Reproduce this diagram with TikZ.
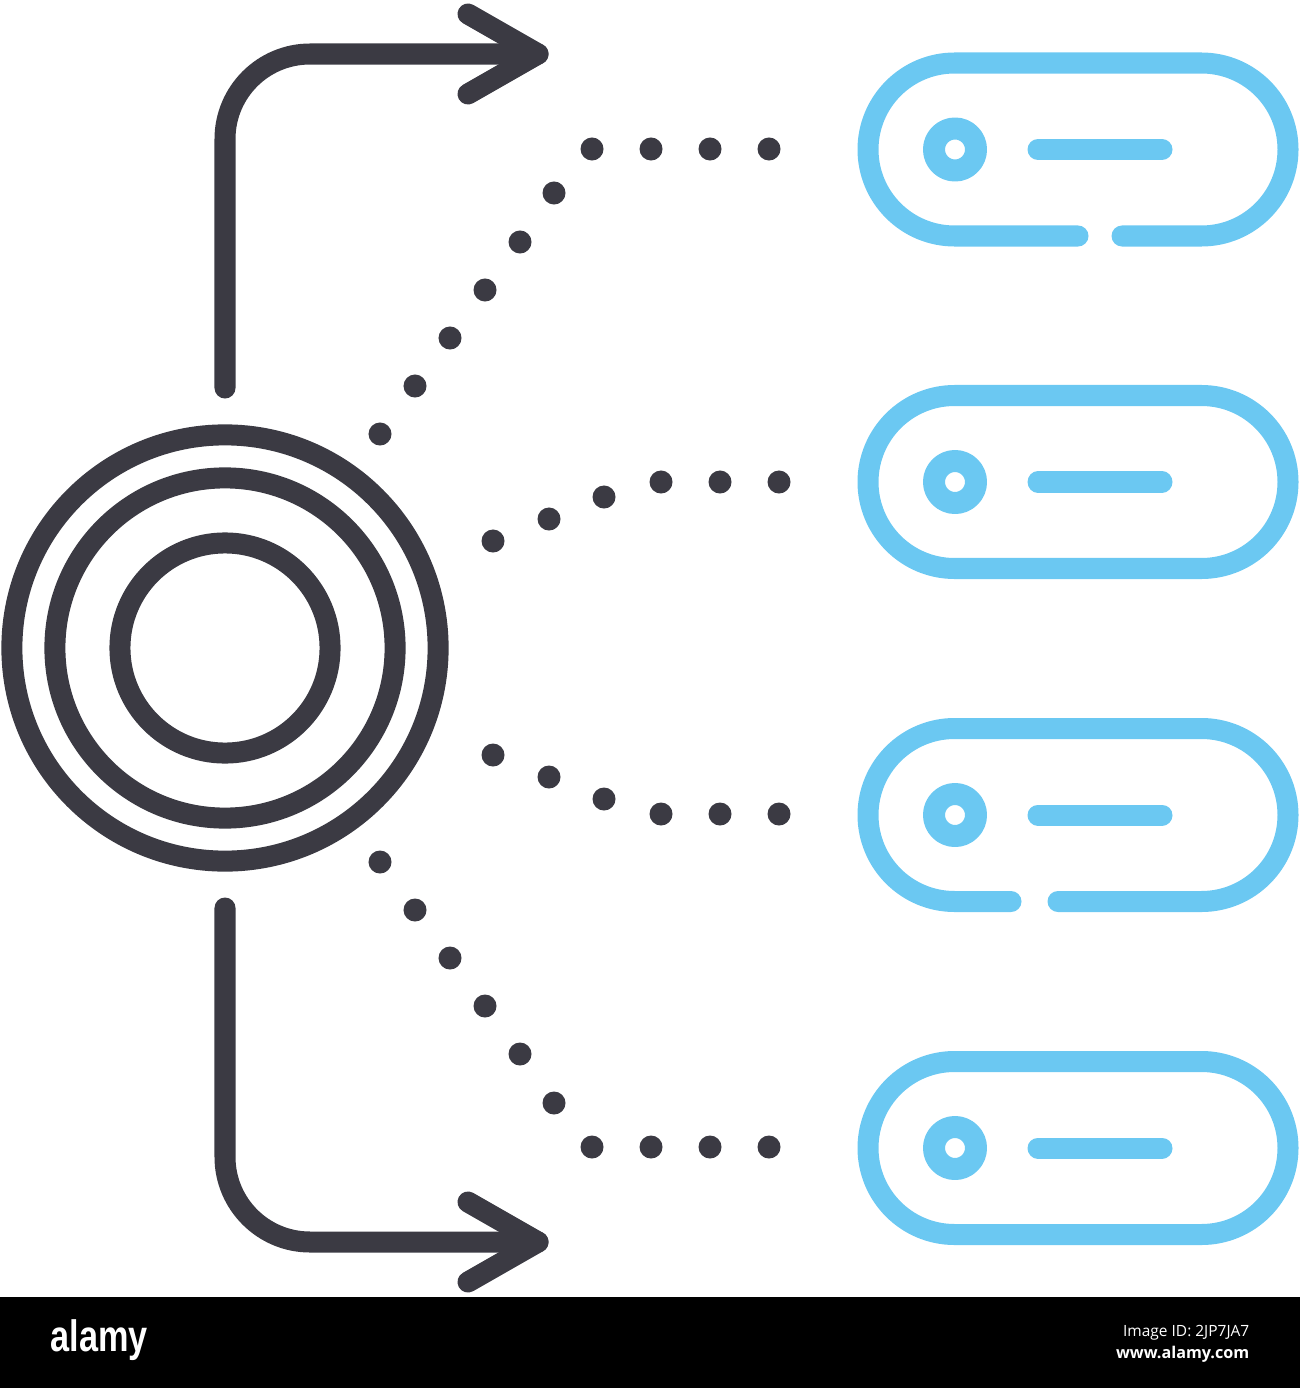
\documentclass[tikz,border=0pt]{standalone}
\usepackage{graphicx}
\usepackage{fontspec}
\setmainfont{Liberation Sans}
\newfontfamily\idfont{Open Sans}
\definecolor{ink}{RGB}{59,58,67}
\definecolor{sky}{RGB}{107,200,242}

\begin{document}
\begin{tikzpicture}[x=0.01cm,y=-0.01cm,line cap=round,line join=round,
    ring/.style={draw=ink,line width=0.21cm,circle,inner sep=0pt},
    flow/.style={draw=ink,line width=0.21cm},
    pill/.style={draw=sky,line width=0.21cm,rounded corners=0.865cm},
    knob/.style={draw=sky,line width=0.22cm,circle,inner sep=0pt,minimum size=0.42cm}]
    \useasboundingbox (0,0) rectangle (1300,1388);

    % hub
    \node[ring,minimum size=4.26cm] (hub) at (225,648) {};
    \node[ring,minimum size=3.40cm] (mid) at (hub) {};
    \node[ring,minimum size=2.10cm] (core) at (hub) {};

    % arrows
    \coordinate (upS) at (225,388);
    \coordinate (upT) at (538,54);
    \coordinate (dnS) at (225,908);
    \coordinate (dnT) at (538,1242);
    \draw[flow,rounded corners=0.85cm] (upS) |- (upT);
    \draw[flow] (upT) ++(-70,-40) -- (upT) -- ++(-70,40);
    \draw[flow,rounded corners=0.85cm] (dnS) |- (dnT);
    \draw[flow] (dnT) ++(-70,-40) -- (dnT) -- ++(-70,40);

    % dots, top half and its mirror
    \foreach \x/\y in {380/434, 415/386, 450/338, 485/290, 520/242, 554/193,
        592/149, 651/149, 710/149, 769/149,
        493/541, 549/519, 604/497, 661/482, 720/482, 779/482}{
        \fill[ink] (\x,\y) circle[radius=0.115cm];
        \fill[ink] (\x,{1296-\y}) circle[radius=0.115cm];
    }

    % pills
    \foreach \c/\ga/\gb [count=\i] in {149.5/1078/1122, 482/1100/1100,
        815/1011/1058, 1148/1100/1100}{
        \draw[pill] (\gb,{\c+86.5}) -- (1288,{\c+86.5}) -- (1288,{\c-86.5})
            -- (868,{\c-86.5}) -- (868,{\c+86.5}) -- (\ga,{\c+86.5});
        \node[knob] (k\i) at (955,\c) {};
        \draw[draw=sky,line width=0.21cm] (1038,\c) -- (1162,\c);
    }

    % footer
    \fill[black] (0,1297) rectangle (1300,1388);
    \node[text=white,anchor=base west,inner sep=0pt] (logo) at (50,1351)
        {\fontsize{12.5}{12.5}\selectfont\bfseries\scalebox{0.78}[1]{alamy}};
    \node[text=white,anchor=base east,inner sep=0pt] (imgid) at (1250,1336)
        {\idfont\fontsize{4.4}{4.4}\selectfont Image ID: 2JP7JA7};
    \node[text=white,anchor=base east,inner sep=0pt] (site) at (1250,1358)
        {\idfont\fontsize{4.6}{4.6}\selectfont\bfseries www.alamy.com};
\end{tikzpicture}
\end{document}
